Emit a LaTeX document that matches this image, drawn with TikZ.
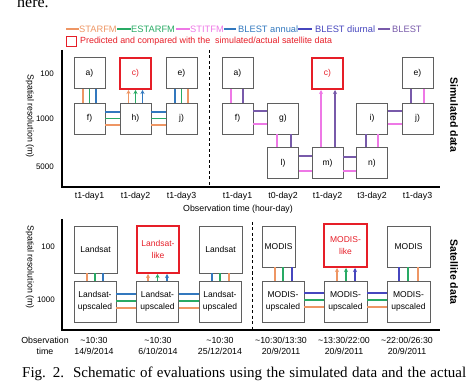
\documentclass[tikz,border=0pt]{standalone}
\usepackage{fontspec}
\setmainfont{Liberation Sans}
\newfontfamily\capfont{Liberation Serif}
\usetikzlibrary{calc,arrows.meta}
\definecolor{cstar}{RGB}{238,150,100}
\definecolor{cestar}{RGB}{40,170,100}
\definecolor{cstit}{RGB}{238,120,230}
\definecolor{cann}{RGB}{50,120,190}
\definecolor{cdiu}{RGB}{70,70,190}
\definecolor{cblest}{RGB}{120,90,170}
\definecolor{predred}{RGB}{230,30,40}
\definecolor{boxgray}{RGB}{95,95,95}
\tikzset{
  box/.style={draw=boxgray, line width=0.8pt, inner sep=0pt, align=center,
    font=\fontsize{8.5}{11.5}\selectfont},
  sq/.style={box, minimum width=31pt, minimum height=31pt},
  redsq/.style={sq, draw=predred, line width=2pt, text=predred},
  lk/.style={line width=1.4pt},
  arr/.style={lk, -{Stealth[length=4pt,width=4pt]}},
  lbl/.style={font=\fontsize{8.8}{10.5}\selectfont, inner sep=0pt, align=center},
  ylab/.style={font=\fontsize{8}{10}\selectfont, inner sep=0pt, anchor=east},
  side/.style={font=\bfseries\fontsize{10.5}{12}\selectfont, rotate=-90, inner sep=0pt},
  leg/.style={font=\fontsize{9.3}{11}\selectfont, inner sep=0pt, anchor=west},
  axisline/.style={line width=1.2pt},
  dashline/.style={line width=0.8pt, dash pattern=on 3pt off 2.5pt},
}
\newcommand\vlk[4]{\path ($(#2.north)+(#4,0)$) coordinate (vt); \draw[#1] (vt) -- (vt |- #3.south);}
\newcommand\hlk[4]{\path ($(#2.east)+(0,#4)$) coordinate (ht); \draw[#1] (ht) -- (ht -| #3.west);}
\begin{document}
\begin{tikzpicture}[x=1pt,y=-1pt]
\useasboundingbox (0,0) rectangle (474,382);
% cut-off text on top
\node[font=\capfont\fontsize{16}{18}\selectfont, inner sep=0pt, anchor=base west] (here) at (17,7.5) {here.};
% legend
\node[leg, text=cstar] (lg1) at (79,29) {STARFM};
\node[leg, text=cestar] (lg2) at (131,29) {ESTARFM};
\node[leg, text=cstit] (lg3) at (190,29) {STITFM};
\node[leg, text=cann] (lg4) at (238,29) {BLEST annual};
\node[leg, text=cdiu] (lg5) at (315,29) {BLEST diurnal};
\node[leg, text=cblest] (lg6) at (392,29) {BLEST};
\draw[lk, cstar] ($(lg1.west)+(-13,0)$) -- (lg1.west);
\draw[lk, cestar] ($(lg2.west)+(-14,0)$) -- (lg2.west);
\draw[lk, cstit] ($(lg3.west)+(-14,0)$) -- (lg3.west);
\draw[lk, cann] (lg3.east) -- ++(12,0);
\draw[lk, cdiu] ($(lg5.west)+(-17,0)$) -- ++(14,0);
\draw[lk, cblest] ($(lg6.west)+(-14,0)$) -- ++(12,0);
\node[draw=predred, line width=1.5pt, minimum size=10pt, inner sep=0pt] (lgbox) at (71.5,41.5) {};
\node[leg, text=predred, font=\fontsize{8.9}{11}\selectfont] (lgtxt) at (80,41.5) {Predicted and compared with the\ \ simulated/actual satellite data};

% ---------- top panel axes ----------
\draw[axisline] (62,50) -- (62,187) -- (440,187);
\draw[dashline] (209,50) -- (209,187);
\node[ylab] (y100) at (54,74) {100};
\node[ylab] (y1000) at (54,118.5) {1000};
\node[ylab] (y5000) at (54,167) {5000};
\node[lbl, rotate=-90] (yt) at (30,116) {Spatial resolution (m)};
\node[side] (simd) at (454,115) {Simulated data};
\foreach \xx/\tt/\nm in {89.5/t1-day1/t1, 135.5/t1-day2/t2, 181.5/t1-day3/t3, 237.5/t1-day1/t4, 283/t0-day2/t5, 327.5/t1-day2/t6, 372/t3-day2/t7, 417.5/t1-day3/t8}
  \node[lbl] (\nm) at (\xx,196) {\tt};
\node[lbl] (xt) at (238,209) {Observation time (hour-day)};

% top-left boxes
\node[sq] (a1) at (89.5,73) {a)};
\node[redsq] (c1) at (135.5,73.5) {c)};
\node[sq] (e1) at (181.5,73) {e)};
\node[sq] (f1) at (89.5,118.5) {f)};
\node[sq] (h1) at (135.5,118.5) {h)};
\node[sq] (j1) at (181.5,118.5) {j)};
\vlk{lk,cstar}{f1}{a1}{-6.5}
\vlk{lk,cestar}{f1}{a1}{0}
\vlk{lk,cann}{f1}{a1}{6.5}
\vlk{arr,cstar}{h1}{c1}{-7}
\vlk{arr,cestar}{h1}{c1}{0}
\vlk{arr,cann}{h1}{c1}{7}
\vlk{lk,cann}{j1}{e1}{-6.5}
\vlk{lk,cestar}{j1}{e1}{0}
\vlk{lk,cstar}{j1}{e1}{6.5}
\hlk{lk,cann}{f1}{h1}{-6.5}
\hlk{lk,cestar}{f1}{h1}{0}
\hlk{lk,cstar}{f1}{h1}{6.5}
\hlk{lk,cann}{h1}{j1}{-6.5}
\hlk{lk,cestar}{h1}{j1}{0}
\hlk{lk,cstar}{h1}{j1}{6.5}

% top-right boxes
\node[sq] (a2) at (237.5,73) {a)};
\node[sq] (f2) at (237.5,118.5) {f)};
\node[sq] (g2) at (283,118.5) {g)};
\node[sq] (l2) at (283,163) {l)};
\node[sq] (m2) at (327.5,163) {m)};
\node[redsq] (c2) at (327.5,73.5) {c)};
\node[sq] (n2) at (372,163) {n)};
\node[sq] (i2) at (372,118.5) {i)};
\node[sq] (e2) at (417.5,73) {e)};
\node[sq] (j2) at (417.5,118.5) {j)};
\vlk{lk,cstit}{f2}{a2}{-6.5}
\vlk{lk,cblest}{f2}{a2}{5.5}
\hlk{lk,cblest}{f2}{g2}{-7.5}
\hlk{lk,cstit}{f2}{g2}{5.5}
\vlk{lk,cstit}{l2}{g2}{-6}
\vlk{lk,cblest}{l2}{g2}{8}
\hlk{lk,cblest}{l2}{m2}{-7}
\hlk{lk,cstit}{l2}{m2}{8}
\vlk{arr,cstit}{m2}{c2}{-6.5}
\vlk{arr,cblest}{m2}{c2}{7.5}
\hlk{lk,cblest}{m2}{n2}{-6}
\hlk{lk,cstit}{m2}{n2}{8}
\vlk{lk,cblest}{n2}{i2}{-6}
\vlk{lk,cstit}{n2}{i2}{6}
\hlk{lk,cblest}{i2}{j2}{-7.5}
\hlk{lk,cstit}{i2}{j2}{5.5}
\vlk{lk,cblest}{j2}{e2}{-6.5}
\vlk{lk,cstit}{j2}{e2}{6.5}

% ---------- bottom panel axes ----------
\draw[axisline] (62,219) -- (62,330) -- (440,330);
\draw[dashline] (252,222) -- (252,330);
\node[ylab] (yb100) at (55,247) {100};
\node[ylab] (yb1000) at (55,300) {1000};
\node[lbl, rotate=-90] (ytb) at (30,267) {Spatial resolution (m)};
\node[side] (satd) at (454,272) {Satellite data};
\node[lbl] (obs) at (45,346) {Observation\\time};
\node[lbl] (d1) at (94,346) {\textasciitilde10:30\\14/9/2014};
\node[lbl] (d2) at (158,346) {\textasciitilde10:30\\6/10/2014};
\node[lbl] (d3) at (220,346) {\textasciitilde10:30\\25/12/2014};
\node[lbl] (d4) at (281,346) {\textasciitilde10:30/13:30\\20/9/2011};
\node[lbl] (d5) at (344,346) {\textasciitilde13:30/22:00\\20/9/2011};
\node[lbl] (d6) at (407,346) {\textasciitilde22:00/26:30\\20/9/2011};

% bottom-left boxes
\node[box, minimum width=43pt, minimum height=47pt] (L1) at (95.5,249.5) {Landsat};
\node[box, minimum width=42pt, minimum height=47pt, draw=predred, line width=2pt, text=predred] (L2) at (158,249.5) {Landsat-\\like};
\node[box, minimum width=43pt, minimum height=47pt] (L3) at (220.5,249.5) {Landsat};
\node[box, minimum width=42pt, minimum height=41pt] (U1) at (95,301.5) {Landsat-\\upscaled};
\node[box, minimum width=42pt, minimum height=41pt] (U2) at (157.5,301.5) {Landsat-\\upscaled};
\node[box, minimum width=42pt, minimum height=41pt] (U3) at (220,301.5) {Landsat-\\upscaled};
\vlk{lk,cstar}{U1}{L1}{-8}
\vlk{lk,cestar}{U1}{L1}{0}
\vlk{lk,cann}{U1}{L1}{8}
\vlk{arr,cstar}{U2}{L2}{-9.5}
\vlk{arr,cestar}{U2}{L2}{0}
\vlk{arr,cann}{U2}{L2}{9.5}
\vlk{lk,cann}{U3}{L3}{-8}
\vlk{lk,cestar}{U3}{L3}{0}
\vlk{lk,cstar}{U3}{L3}{9}
\hlk{lk,cann}{U1}{U2}{-7.5}
\hlk{lk,cestar}{U1}{U2}{-0.5}
\hlk{lk,cstar}{U1}{U2}{6.5}
\hlk{lk,cann}{U2}{U3}{-7.5}
\hlk{lk,cestar}{U2}{U3}{-0.5}
\hlk{lk,cstar}{U2}{U3}{6.5}

% bottom-right boxes
\node[box, minimum width=33pt, minimum height=41pt] (M1) at (278.5,246.5) {MODIS};
\node[box, minimum width=43pt, minimum height=43pt, draw=predred, line width=2pt, text=predred] (M2) at (345.5,245.5) {MODIS-\\like};
\node[box, minimum width=43pt, minimum height=41pt] (M3) at (408.5,246.5) {MODIS};
\node[box, minimum width=42pt, minimum height=41pt] (MU1) at (283,301.5) {MODIS-\\upscaled};
\node[box, minimum width=43pt, minimum height=41pt] (MU2) at (345.5,301.5) {MODIS-\\upscaled};
\node[box, minimum width=43pt, minimum height=41pt] (MU3) at (408.5,301.5) {MODIS-\\upscaled};
\vlk{lk,cstar}{MU1}{M1}{-8}
\vlk{lk,cestar}{MU1}{M1}{0}
\vlk{lk,cdiu}{MU1}{M1}{9}
\vlk{arr,cstar}{MU2}{M2}{-8.5}
\vlk{arr,cestar}{MU2}{M2}{0.5}
\vlk{arr,cdiu}{MU2}{M2}{9.5}
\vlk{lk,cdiu}{MU3}{M3}{-9.5}
\vlk{lk,cestar}{MU3}{M3}{-0.5}
\vlk{lk,cstar}{MU3}{M3}{9.5}
\hlk{lk,cdiu}{MU1}{MU2}{-8.5}
\hlk{lk,cestar}{MU1}{MU2}{-1.5}
\hlk{lk,cstar}{MU1}{MU2}{5.5}
\hlk{lk,cdiu}{MU2}{MU3}{-8.5}
\hlk{lk,cestar}{MU2}{MU3}{-1.5}
\hlk{lk,cstar}{MU2}{MU3}{5.5}

% caption
\node[font=\capfont\fontsize{15}{17}\selectfont, inner sep=0pt, anchor=base west] (cap) at (22,377) {\makebox[444pt][s]{Fig. 2.\ \ Schematic of evaluations using the simulated data and the actual}};
\end{tikzpicture}
\end{document}
